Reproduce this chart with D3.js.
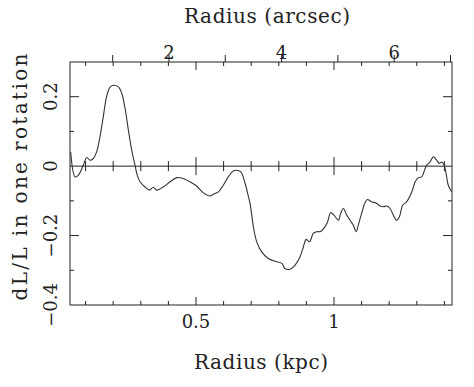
<!DOCTYPE html>
<html>
<head>
<meta charset="utf-8">
<script src="https://cdn.jsdelivr.net/npm/d3@7"></script>
<style>
  body { margin: 0; background: #fff; }
  text { font-family: "DejaVu Serif", serif; fill: #222; }
</style>
</head>
<body>
<script>
// data
const radiusKpc = [0.046,0.062,0.074,0.092,0.104,0.116,0.128,0.140,0.152,0.164,0.176,0.188,0.200,0.218,0.231,0.243,0.255,0.267,0.279,0.287,0.297,0.315,0.331,0.345,0.358,0.381,0.406,0.430,0.448,0.478,0.503,0.527,0.551,0.563,0.581,0.599,0.617,0.635,0.647,0.662,0.678,0.690,0.696,0.708,0.720,0.738,0.762,0.786,0.811,0.822,0.841,0.859,0.877,0.889,0.899,0.911,0.925,0.937,0.952,0.967,0.977,0.988,1.000,1.016,1.024,1.034,1.046,1.058,1.070,1.080,1.088,1.100,1.112,1.121,1.137,1.152,1.167,1.179,1.191,1.203,1.215,1.227,1.237,1.249,1.263,1.282,1.294,1.306,1.318,1.326,1.336,1.348,1.360,1.372,1.382,1.390,1.399,1.406,1.414,1.426];
const dLL = [0.041,-0.031,-0.026,0.003,0.025,0.017,0.022,0.041,0.084,0.142,0.200,0.227,0.233,0.229,0.210,0.166,0.104,0.046,0.003,-0.026,-0.045,-0.060,-0.069,-0.061,-0.069,-0.060,-0.045,-0.033,-0.034,-0.045,-0.058,-0.077,-0.086,-0.081,-0.074,-0.055,-0.031,-0.014,-0.012,-0.016,-0.050,-0.088,-0.108,-0.175,-0.218,-0.247,-0.266,-0.274,-0.280,-0.295,-0.297,-0.285,-0.261,-0.233,-0.211,-0.218,-0.194,-0.189,-0.188,-0.175,-0.160,-0.134,-0.141,-0.156,-0.136,-0.122,-0.141,-0.156,-0.170,-0.189,-0.170,-0.136,-0.106,-0.096,-0.103,-0.106,-0.115,-0.117,-0.115,-0.122,-0.141,-0.156,-0.146,-0.112,-0.103,-0.074,-0.045,-0.033,-0.031,-0.016,0.003,0.012,0.027,0.017,0.008,0.012,0.003,-0.021,-0.055,-0.074];

const kpcTicks = [0.1,0.2,0.3,0.4,0.5,0.6,0.7,0.8,0.9,1.0,1.1,1.2,1.3,1.4];
const kpcLabels = [0.5, 1];
const arcsecTicks = [1,2,3,4,5,6,7];
const arcsecLabels = [2,4,6];
const yTicks = [0.2,0.1,0,-0.1,-0.2,-0.3];
const yLabels = [0.2,0,-0.2,-0.4];

let width = 474, height = 387;
let margin = { top: 62, bottom: 82, left: 70, right: 22 };

let svg = d3.select('body')
  .append('svg')
  .attr('width', width)
  .attr('height', height);

const x = d3.scaleLinear()
  .domain([0.0435, 1.4275])
  .range([margin.left, width - margin.right]);

const xArc = d3.scaleLinear()
  .domain([0.2416, 7.027])
  .range([margin.left, width - margin.right]);

const y = d3.scaleLinear()
  .domain([-0.4, 0.3])
  .range([height - margin.bottom, margin.top]);

const isMajor = v => kpcLabels.some(l => Math.abs(l - v) < 1e-6);
const stroke = "#222";

// frame
svg.append("rect")
  .attr("x", x.range()[0])
  .attr("y", y.range()[1])
  .attr("width", x.range()[1] - x.range()[0])
  .attr("height", y.range()[0] - y.range()[1])
  .attr("fill", "none")
  .attr("stroke", stroke)
  .attr("stroke-width", 1);

// kpc ticks, bottom (inside), top (inside)
const yb = y.range()[0], yt = y.range()[1], y0 = y(0);
kpcTicks.forEach(v => {
  const len = isMajor(v) ? 8 : 4;
  svg.append("line").attr("x1", x(v)).attr("x2", x(v)).attr("y1", yb).attr("y2", yb - len).attr("stroke", stroke);
  svg.append("line").attr("x1", x(v)).attr("x2", x(v)).attr("y1", yt).attr("y2", yt + len).attr("stroke", stroke);
  // across zero line
  svg.append("line").attr("x1", x(v)).attr("x2", x(v)).attr("y1", y0 - len - 1).attr("y2", y0 + len + 1).attr("stroke", stroke);
});

// zero line
svg.append("line")
  .attr("x1", x.range()[0]).attr("x2", x.range()[1])
  .attr("y1", y0).attr("y2", y0)
  .attr("stroke", stroke);

// arcsec ticks on top, pointing out
arcsecTicks.forEach(v => {
  svg.append("line").attr("x1", xArc(v)).attr("x2", xArc(v)).attr("y1", yt).attr("y2", yt - 7).attr("stroke", stroke);
});
svg.selectAll(".arcLabel")
  .data(arcsecLabels)
  .enter()
  .append("text")
  .attr("class", "arcLabel")
  .attr("x", d => xArc(d))
  .attr("y", 59)
  .attr("text-anchor", "middle")
  .style("font-size", "18px")
  .text(d => d);

// kpc labels
svg.selectAll(".kpcLabel")
  .data(kpcLabels)
  .enter()
  .append("text")
  .attr("class", "kpcLabel")
  .attr("x", d => x(d))
  .attr("y", 328)
  .attr("text-anchor", "middle")
  .style("font-size", "18px")
  .text(d => d);

// y ticks left and right (inside)
yTicks.forEach(v => {
  const len = Math.abs(Math.round(v * 10)) % 2 === 0 ? 9 : 4;
  if (v === 0) return;
  svg.append("line").attr("x1", x.range()[0]).attr("x2", x.range()[0] + len).attr("y1", y(v)).attr("y2", y(v)).attr("stroke", stroke);
  svg.append("line").attr("x1", x.range()[1]).attr("x2", x.range()[1] - len).attr("y1", y(v)).attr("y2", y(v)).attr("stroke", stroke);
});

// y labels, rotated
svg.selectAll(".yLabel")
  .data(yLabels)
  .enter()
  .append("text")
  .attr("class", "yLabel")
  .attr("transform", d => `translate(57,${y(d)})rotate(-90)`)
  .attr("text-anchor", "middle")
  .style("font-size", "18px")
  .text(d => d < 0 ? "\u2212" + Math.abs(d) : d);

// curve
const line = d3.line()
  .x((d, i) => x(radiusKpc[i]))
  .y(d => y(d))
  .curve(d3.curveCatmullRom);

svg.append("path")
  .datum(dLL)
  .attr("d", line)
  .attr("fill", "none")
  .attr("stroke", "#333")
  .attr("stroke-width", 1.1);

// titles
svg.append("text")
  .attr("x", 267)
  .attr("y", 23)
  .attr("text-anchor", "middle")
  .attr("textLength", 166)
  .style("font-size", "20px")
  .text("Radius (arcsec)");

svg.append("text")
  .attr("x", 261)
  .attr("y", 369)
  .attr("text-anchor", "middle")
  .attr("textLength", 134)
  .style("font-size", "20px")
  .text("Radius (kpc)");

svg.append("text")
  .attr("transform", "translate(27,177)rotate(-90)")
  .attr("text-anchor", "middle")
  .attr("textLength", 247)
  .style("font-size", "20px")
  .text("dL/L in one rotation");
</script>
</body>
</html>
